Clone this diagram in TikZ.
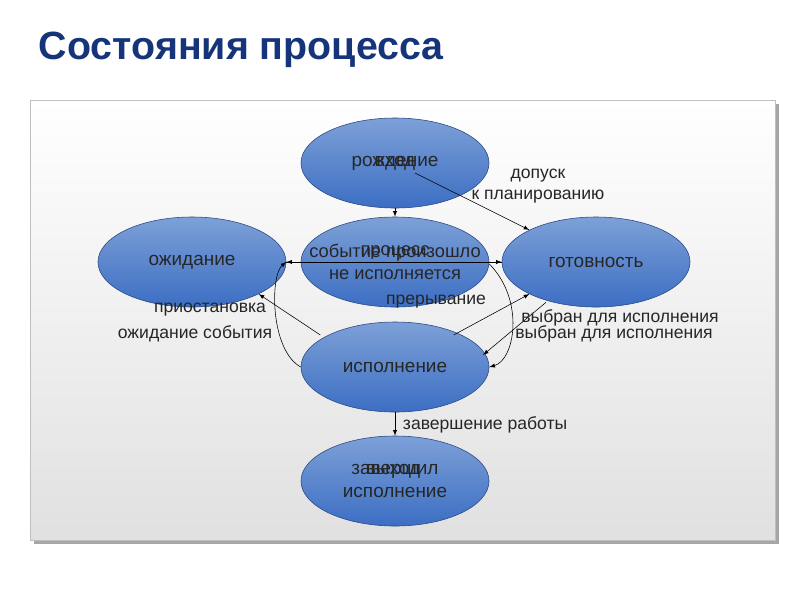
\documentclass[tikz,border=0pt]{standalone}
\usepackage{fontspec}
\setmainfont{Liberation Sans}
\usetikzlibrary{shapes.geometric,shadows}
\definecolor{titleblue}{RGB}{22,52,122}
\definecolor{ellline}{RGB}{40,70,130}
\definecolor{elltop}{RGB}{125,160,215}
\definecolor{ellbot}{RGB}{60,110,195}
\tikzset{
  state/.style={ellipse, draw=ellline, thin, top color=elltop, bottom color=ellbot, inner sep=0pt,
    minimum width=4.7cm, minimum height=2.25cm, font=\fontsize{13.5}{17}\selectfont, text=black!85, align=center},
  ovl/.style={font=\fontsize{13.5}{17}\selectfont, text=black!85},
  lbl/.style={font=\fontsize{12.5}{15}\selectfont, align=center, text=black!85},
  conn/.style={-latex, thin}
}
\begin{document}
\begin{tikzpicture}[x=0.025cm,y=-0.025cm]
  \useasboundingbox (0,0) rectangle (800,600);
  %%%%% title and panel
  \node[anchor=west, font=\fontsize{28}{32}\selectfont\bfseries, text=titleblue] (title) at (34,50) {Состояния процесса};
  \fill[black!35] (34,104) rectangle (779,544);
  \shade[top color=white, bottom color=black!12, draw=black!25] (30,100) rectangle (775,540);
  %%%%% states
  \node[state] (birth) at (395,163) {рождение};
  \node[ovl] at (395,163) {вход};
  \node[state] (wait) at (192,262) {ожидание};
  \node[state, inner xsep=-30pt, font=\fontsize{13}{16}\selectfont] (idle) at (395,262) {событие произошло\\не исполняется};
  \node[ovl, font=\fontsize{13}{16}\selectfont] at (395,252) {процесс};
  \node[state] (ready) at (596,262) {готовность};
  \node[state] (run) at (395,367) {исполнение};
  \node[state] (done) at (395,481) {завершил\\исполнение};
  \node[ovl] at (393,471) {выход};
  %%%%% connectors
  \draw[conn] (birth.south) -- (idle.north);
  \draw[conn] (birth.center) ++(20,10) -- (ready.north west);
  \draw[conn] (wait.east) -- (ready.west);
  \draw[conn] (ready.west) -- (wait.east);
  \draw[conn] (run.west) .. controls (270,350) and (270,275) .. (wait.east);
  \draw[conn] (run.north west) ++(-8,0) -- (wait.south east);
  \draw[conn] (run.north east) ++(-8,0) -- (ready.south west);
  \draw[conn] (ready.south) ++(-50,-5) -- (483,355);
  \draw[conn] (idle.east) ++(0,2) .. controls (525,300) and (515,360) .. (run.east);
  \draw[conn] (run.south) -- (done.north);
  %%%%% labels
  \node[lbl] (admit) at (538,186) {допуск\\к планированию};
  \node[lbl] (susp) at (210,310) {приостановка};
  \node[lbl] (ev) at (195,334) {ожидание события};
  \node[lbl] (intr) at (436,302) {прерывание};
  \node[lbl] (sel1) at (620,318) {выбран для исполнения};
  \node[lbl] (sel2) at (614,334) {выбран для исполнения};
  \node[lbl, anchor=west] (fin) at (398,425) {завершение работы};
\end{tikzpicture}
\end{document}
